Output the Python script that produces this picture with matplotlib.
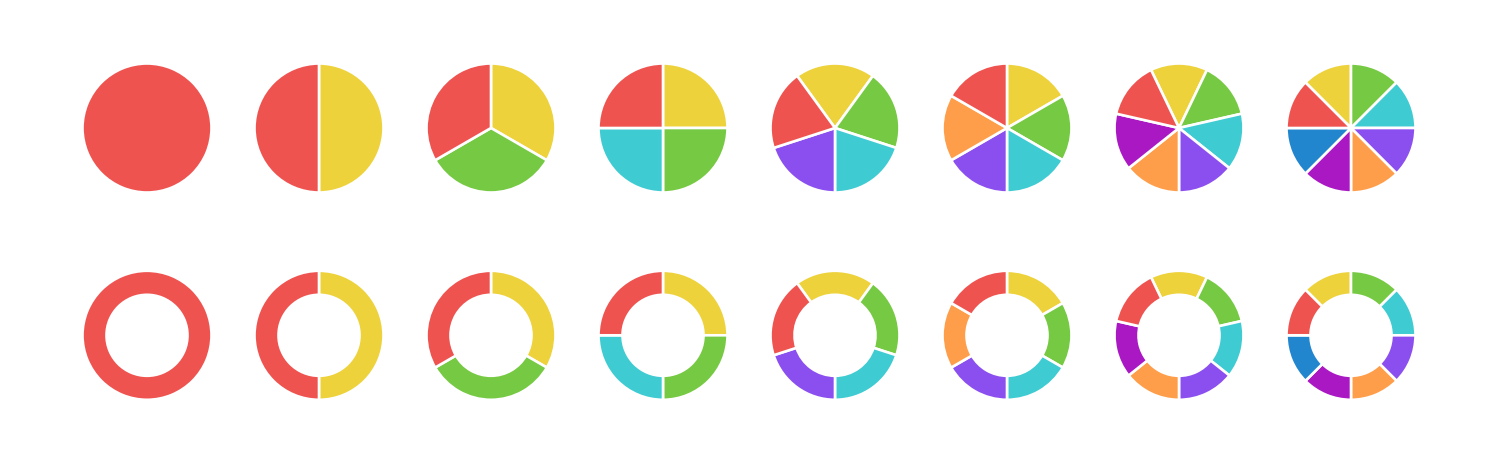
import matplotlib
matplotlib.use("Agg")
import matplotlib.pyplot as plt

# Data: equal-share slices per chart (1..8 slices)
slice_values = [
    [1],
    [1, 1],
    [1, 1, 1],
    [1, 1, 1, 1],
    [1, 1, 1, 1, 1],
    [1, 1, 1, 1, 1, 1],
    [1, 1, 1, 1, 1, 1, 1],
    [1, 1, 1, 1, 1, 1, 1, 1],
]
# colour order clockwise from the start angle (red is always last)
slice_colors = [
    ["#EF5350"],
    ["#EDD23B", "#EF5350"],
    ["#EDD23B", "#76C942", "#EF5350"],
    ["#EDD23B", "#76C942", "#3ECBD2", "#EF5350"],
    ["#EDD23B", "#76C942", "#3ECBD2", "#8C4FEF", "#EF5350"],
    ["#EDD23B", "#76C942", "#3ECBD2", "#8C4FEF", "#FF9E4A", "#EF5350"],
    ["#EDD23B", "#76C942", "#3ECBD2", "#8C4FEF", "#FF9E4A", "#A918C3", "#EF5350"],
    ["#EDD23B", "#76C942", "#3ECBD2", "#8C4FEF", "#FF9E4A", "#A918C3", "#2286CF", "#EF5350"],
]
start_angles = [90, 90, 90, 90, 126, 90, 115.714, 135]

fig = plt.figure(figsize=(15, 4.5), dpi=100)
ax = fig.add_axes([0, 0, 1, 1])

x0, dx = 147, 172
y_top, y_bot = 450 - 128, 450 - 335.3
R = 64.5
ring_w = 64.5 - 40.5

for i, (vals, cols, sa) in enumerate(zip(slice_values, slice_colors, start_angles)):
    cx = x0 + i * dx
    ax.pie(vals, colors=cols, startangle=sa, counterclock=False,
           center=(cx, y_top), radius=R, frame=True,
           wedgeprops=dict(edgecolor="white", linewidth=1.9))
    ax.pie(vals, colors=cols, startangle=sa, counterclock=False,
           center=(cx, y_bot), radius=R, frame=True,
           wedgeprops=dict(width=ring_w, edgecolor="white", linewidth=1.9))

ax.set_xlim(0, 1500)
ax.set_ylim(0, 450)
ax.set_aspect("auto")
ax.axis("off")
fig.savefig("out.png", dpi=100, facecolor="white")
